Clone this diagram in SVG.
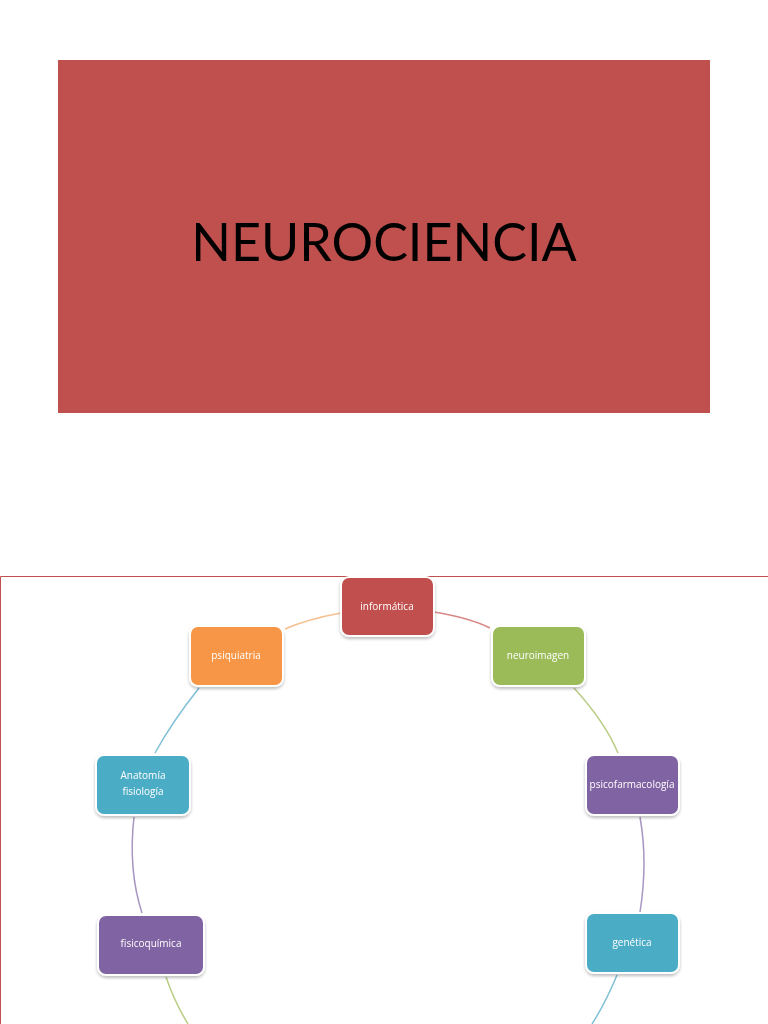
<svg xmlns="http://www.w3.org/2000/svg" width="768" height="1024" viewBox="0 0 768 1024">
<style>
.n{stroke:#fff;stroke-width:2}
.t{font-family:"Open Sans","Liberation Sans",sans-serif;fill:#fff;text-anchor:middle;font-size:10px}
.c{fill:none;stroke-width:1.5}
</style>
<defs><filter id="s" x="-10%" y="-10%" width="120%" height="130%"><feDropShadow dx="0" dy="2" stdDeviation="1.5" flood-color="#000" flood-opacity="0.25"/></filter></defs>
<rect width="768" height="1024" fill="#fff"/>
<g id="title">
<rect x="58" y="60" width="652" height="353" fill="#c0504d"/>
<text x="384" y="261" font-family="Lato,'Liberation Sans',sans-serif" font-size="52" text-anchor="middle" fill="#000">NEUROCIENCIA</text>
</g>
<path d="M0.5,1024 V576.5 H768" fill="none" stroke="#c0504d" stroke-width="1"/>
<g id="connectors">
<path class="c" stroke="#d88a88" d="M434,612 Q470,618 490,628"/>
<path class="c" stroke="#b9cd85" d="M574,688 Q605,722 618,753"/>
<path class="c" stroke="#a796c2" d="M640,817 Q648,862 640,912"/>
<path class="c" stroke="#7fc0d6" d="M617,975 Q606,1002 592,1024"/>
<path class="c" stroke="#b9cd85" d="M166,977 Q175,1003 188,1024"/>
<path class="c" stroke="#a796c2" d="M134,817 Q128,870 142,913"/>
<path class="c" stroke="#7fc0d6" d="M199,688 Q172,722 155,753"/>
<path class="c" stroke="#f5bf8f" d="M341,613 Q308,619 285,629"/>
</g>
<g id="informatica" filter="url(#s)"><rect class="n" x="341" y="577" width="93" height="59" rx="8" fill="#c0504d"/><text class="t" x="387" y="610">informática</text></g>
<g id="psiquiatria" filter="url(#s)"><rect class="n" x="190" y="626" width="93" height="60" rx="8" fill="#f79646"/><text class="t" x="236" y="659">psiquiatria</text></g>
<g id="neuroimagen" filter="url(#s)"><rect class="n" x="492" y="626" width="93" height="60" rx="8" fill="#9bbb59"/><text class="t" x="538" y="659">neuroimagen</text></g>
<g id="anatomia" filter="url(#s)"><rect class="n" x="96" y="755" width="94" height="60" rx="8" fill="#4bacc6"/><text class="t" x="143" y="779">Anatomía</text><text class="t" x="143" y="795">fisiología</text></g>
<g id="psicofarmacologia" filter="url(#s)"><rect class="n" x="586" y="755" width="93" height="60" rx="8" fill="#8064a2"/><text class="t" x="632" y="788">psicofarmacología</text></g>
<g id="fisicoquimica" filter="url(#s)"><rect class="n" x="98" y="915" width="106" height="60" rx="8" fill="#8064a2"/><text class="t" x="151" y="947" font-size="7">fisicoquímica</text></g>
<g id="genetica" filter="url(#s)"><rect class="n" x="586" y="913" width="93" height="60" rx="8" fill="#4bacc6"/><text class="t" x="632" y="946">genética</text></g>
</svg>
